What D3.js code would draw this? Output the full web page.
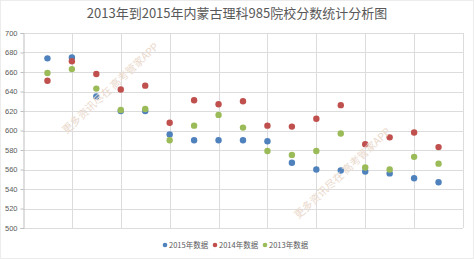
<!DOCTYPE html>
<html>
<head>
<meta charset="utf-8">
<script src="https://cdn.jsdelivr.net/npm/d3@7"></script>
<style>
  body { margin: 0; background: #fff; }
  svg { font-family: "Noto Sans CJK SC", "Noto Sans", sans-serif; }
</style>
</head>
<body>
<div id="chart"></div>
<script>
// school index (1..17) and scores for each year
var schools = [1, 2, 3, 4, 5, 6, 7, 8, 9, 10, 11, 12, 13, 14, 15, 16, 17];
var score2015 = [674, 675, 635, 620, 620, 596, 590, 590, 590, 589, 567, 560, 559, 558, 556, 551, 547];
var score2014 = [651, 671, 658, 642, 646, 608, 631, 627, 630, 605, 604, 612, 626, 586, 593, 598, 583];
var score2013 = [659, 663, 643, 621, 622, 590, 605, 616, 603, 579, 575, 579, 597, 562, 560, 573, 566];
var seriesNames = ["2015年数据", "2014年数据", "2013年数据"];
var seriesColors = ["#4f81bd", "#c0504d", "#9bbb59"];
var yTicks = [500, 520, 540, 560, 580, 600, 620, 640, 660, 680, 700];
var xGrid = [2, 4, 6, 8, 10, 12, 14, 16, 18];

var W = 474, H = 259;
var margin = {left: 23, right: 11, top: 33, bottom: 31};
var width = W - margin.left - margin.right, height = H - margin.top - margin.bottom;

var svg = d3.select("#chart").append("svg")
    .attr("width", W).attr("height", H);

svg.append("rect").attr("x", 0.5).attr("y", 0.5).attr("width", W - 1).attr("height", H - 1)
    .attr("fill", "#fff").attr("stroke", "#ececec");

svg.append("text")
    .attr("x", W / 2).attr("y", 18)
    .attr("text-anchor", "middle")
    .attr("font-size", 13).attr("fill", "#595959")
    .text("2013年到2015年内蒙古理科985院校分数统计分析图");

var g = svg.append("g").attr("transform", "translate(" + margin.left + "," + margin.top + ")");

var x = d3.scaleLinear().domain([0, 18]).range([0, width]);
var y = d3.scaleLinear().domain([500, 700]).range([height, 0]);

// gridlines
g.append("g").selectAll("line").data(yTicks).enter().append("line")
    .attr("x1", 0).attr("x2", width)
    .attr("y1", function(d) { return Math.round(y(d)) + 0.5; })
    .attr("y2", function(d) { return Math.round(y(d)) + 0.5; })
    .attr("stroke", "#dcdcdc");
g.append("g").selectAll("line").data(xGrid).enter().append("line")
    .attr("y1", 0).attr("y2", height)
    .attr("x1", function(d) { return Math.round(x(d)) + 0.5; })
    .attr("x2", function(d) { return Math.round(x(d)) + 0.5; })
    .attr("stroke", "#dcdcdc");

// y axis
var yAxis = g.append("g").attr("transform", "translate(0.5,0)")
    .call(d3.axisLeft(y).tickValues(yTicks).tickSize(3).tickPadding(3));
yAxis.select(".domain").attr("stroke", "#bfbfbf");
yAxis.selectAll(".tick line").attr("stroke", "#bfbfbf");
yAxis.selectAll(".tick text").attr("fill", "#595959").attr("font-size", 7.5);

// watermarks
var marks = [[113, 91], [345, 176]];
marks.forEach(function(p) {
    svg.append("text")
        .attr("transform", "translate(" + p[0] + "," + p[1] + ") rotate(-43)")
        .attr("text-anchor", "middle")
        .attr("font-size", 10.5).attr("fill", "#ead9cc")
        .text("更多资讯尽在 高考管家APP");
});

// points: series drawn in order, later series on top
var allSeries = [score2015, score2014, score2013];
allSeries.forEach(function(s, k) {
    g.append("g").selectAll("circle").data(s).enter().append("circle")
        .attr("cx", function(d, i) { return x(schools[i]); })
        .attr("cy", function(d) { return y(d); })
        .attr("r", 3.2)
        .attr("fill", seriesColors[k]);
});

// legend
var legend = svg.append("g").attr("transform", "translate(163,245)");
var offsets = [0, 50, 100];
seriesNames.forEach(function(name, i) {
    var item = legend.append("g").attr("transform", "translate(" + offsets[i] + ",0)");
    item.append("circle").attr("cx", 2).attr("cy", 0).attr("r", 2.3).attr("fill", seriesColors[i]);
    item.append("text").attr("x", 6).attr("y", 3)
        .attr("font-size", 7.5).attr("fill", "#595959").text(name);
});
</script>
</body>
</html>
